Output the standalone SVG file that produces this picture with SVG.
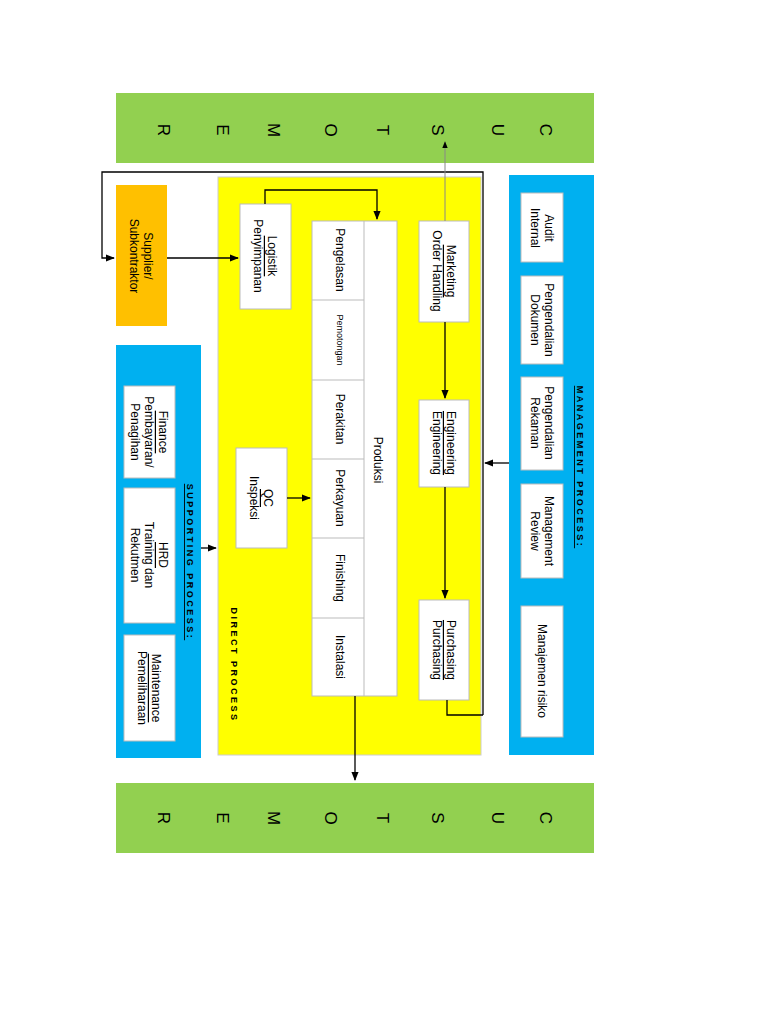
<svg xmlns="http://www.w3.org/2000/svg" width="768" height="1024" viewBox="0 0 768 1024">
<style>
text{font-family:"Liberation Sans",Arial,sans-serif;font-size:12px;fill:#000;text-anchor:middle;dominant-baseline:central}
.big{font-size:17px}
.hd{font-size:9px;font-weight:bold;text-decoration:underline;letter-spacing:2.5px}
.hd2{font-size:9px;font-weight:bold;letter-spacing:2.5px}
.sm{font-size:9px}
.bx{fill:#fff;stroke:#bbb;stroke-width:1}
.ln{fill:none;stroke:#000;stroke-width:1.3}
</style>
<defs><marker id="a" viewBox="0 0 10 10" refX="9" refY="5" markerWidth="7" markerHeight="7" orient="auto"><path d="M0,1L10,5L0,9z" fill="#000"/></marker></defs>
<rect width="768" height="1024" fill="#fff"/>
<g id="customer-top"><rect x="116" y="93" width="478" height="70" fill="#92d050"/>
<g class="big"><text class="big" transform="rotate(90 545 130)" x="545" y="130">C</text><text class="big" transform="rotate(90 497 130)" x="497" y="130">U</text><text class="big" transform="rotate(90 437 130)" x="437" y="130">S</text><text class="big" transform="rotate(90 382 130)" x="382" y="130">T</text><text class="big" transform="rotate(90 330 130)" x="330" y="130">O</text><text class="big" transform="rotate(90 273 130)" x="273" y="130">M</text><text class="big" transform="rotate(90 222 130)" x="222" y="130">E</text><text class="big" transform="rotate(90 163 130)" x="163" y="130">R</text></g></g>
<g id="customer-bottom"><rect x="116" y="783" width="478" height="70" fill="#92d050"/>
<text class="big" transform="rotate(90 545 818)" x="545" y="818">C</text><text class="big" transform="rotate(90 497 818)" x="497" y="818">U</text><text class="big" transform="rotate(90 437 818)" x="437" y="818">S</text><text class="big" transform="rotate(90 382 818)" x="382" y="818">T</text><text class="big" transform="rotate(90 330 818)" x="330" y="818">O</text><text class="big" transform="rotate(90 273 818)" x="273" y="818">M</text><text class="big" transform="rotate(90 222 818)" x="222" y="818">E</text><text class="big" transform="rotate(90 163 818)" x="163" y="818">R</text></g>
<g id="management"><rect x="509" y="175" width="85" height="580" fill="#00b0f0"/>
<text class="hd" transform="rotate(90 580 467)" x="580" y="467">MANAGEMENT PROCESS:</text></g>
<g id="audit"><rect class="bx" x="521" y="193" width="42" height="69"/><text transform="rotate(90 542 228)" x="542" y="228"><tspan x="542" dy="-7">Audit</tspan><tspan x="542" dy="14">Internal</tspan></text></g>
<g id="dokumen"><rect class="bx" x="521" y="276" width="42" height="88"/><text transform="rotate(90 542 320)" x="542" y="320"><tspan x="542" dy="-7">Pengendalian</tspan><tspan x="542" dy="14">Dokumen</tspan></text></g>
<g id="rekaman"><rect class="bx" x="521" y="377" width="42" height="93"/><text transform="rotate(90 542 423)" x="542" y="423"><tspan x="542" dy="-7">Pengendalian</tspan><tspan x="542" dy="14">Rekaman</tspan></text></g>
<g id="review"><rect class="bx" x="521" y="484" width="42" height="94"/><text transform="rotate(90 542 531)" x="542" y="531"><tspan x="542" dy="-7">Management</tspan><tspan x="542" dy="14">Review</tspan></text></g>
<g id="risiko"><rect class="bx" x="521" y="606" width="42" height="131"/><text transform="rotate(90 542 671)" x="542" y="671">Manajemen risiko</text></g>
<g id="direct"><rect x="218" y="177" width="263" height="578" fill="#ffff00" stroke="#ccc"/>
<text class="hd2" transform="rotate(90 234 665)" x="234" y="665">DIRECT PROCESS</text></g>
<g id="supplier"><rect x="116" y="185" width="51" height="141" fill="#ffc000"/><text transform="rotate(90 141 256)" x="141" y="256"><tspan x="141" dy="-7">Supplier/</tspan><tspan x="141" dy="14">Subkontraktor</tspan></text></g>
<g id="supporting"><rect x="116" y="345" width="85" height="413" fill="#00b0f0"/>
<text class="hd" transform="rotate(90 190 562)" x="190" y="562">SUPPORTING PROCESS:</text></g>
<g id="finance"><rect class="bx" x="124" y="386" width="51" height="92"/><text transform="rotate(90 149 432)" x="149" y="432"><tspan x="149" dy="-14" text-decoration="underline">Finance</tspan><tspan x="149" dy="14">Pembayaran/</tspan><tspan x="149" dy="14">Penagihan</tspan></text></g>
<g id="hrd"><rect class="bx" x="124" y="488" width="51" height="135"/><text transform="rotate(90 149 555)" x="149" y="555"><tspan x="149" dy="-14" text-decoration="underline">HRD</tspan><tspan x="149" dy="14">Training dan</tspan><tspan x="149" dy="14">Rekutmen</tspan></text></g>
<g id="maintenance"><rect class="bx" x="124" y="635" width="51" height="106"/><text transform="rotate(90 149 688)" x="149" y="688"><tspan x="149" dy="-7" text-decoration="underline">Maintenance</tspan><tspan x="149" dy="14">Pemeliharaan</tspan></text></g>
<g id="marketing"><rect class="bx" x="419" y="221" width="50" height="101"/><text transform="rotate(90 444 271)" x="444" y="271"><tspan x="444" dy="-7" text-decoration="underline">Marketing</tspan><tspan x="444" dy="14">Order Handling</tspan></text></g>
<g id="engineering"><rect class="bx" x="419" y="400" width="50" height="87"/><text transform="rotate(90 444 443)" x="444" y="443"><tspan x="444" dy="-7" text-decoration="underline">Engineering</tspan><tspan x="444" dy="14">Engineering</tspan></text></g>
<g id="purchasing"><rect class="bx" x="419" y="600" width="50" height="100"/><text transform="rotate(90 444 650)" x="444" y="650"><tspan x="444" dy="-7" text-decoration="underline">Purchasing</tspan><tspan x="444" dy="14">Purchasing</tspan></text></g>
<g id="logistik"><rect class="bx" x="240" y="204" width="51" height="105"/><text transform="rotate(90 265 256)" x="265" y="256"><tspan x="265" dy="-7" text-decoration="underline">Logistik</tspan><tspan x="265" dy="14">Penyimpanan</tspan></text></g>
<g id="qc"><rect class="bx" x="236" y="448" width="51" height="100"/><text transform="rotate(90 261 498)" x="261" y="498"><tspan x="261" dy="-7" text-decoration="underline">QC</tspan><tspan x="261" dy="14">Inspeksi</tspan></text></g>
<g id="produksi"><rect class="bx" x="312" y="221" width="85" height="475"/><line x1="364" y1="221" x2="364" y2="696" stroke="#bbb"/>
<g stroke="#bbb"><line x1="312" y1="300" x2="364" y2="300"/><line x1="312" y1="380" x2="364" y2="380"/><line x1="312" y1="459" x2="364" y2="459"/><line x1="312" y1="538" x2="364" y2="538"/><line x1="312" y1="618" x2="364" y2="618"/></g>
<text transform="rotate(90 378 460)" x="378" y="460">Produksi</text>
<text transform="rotate(90 340 260)" x="340" y="260">Pengelasan</text>
<text class="sm" transform="rotate(90 340 340)" x="340" y="340">Pemotongan</text>
<text transform="rotate(90 340 419)" x="340" y="419">Perakitan</text>
<text transform="rotate(90 340 498)" x="340" y="498">Perkayuan</text>
<text transform="rotate(90 340 578)" x="340" y="578">Finishing</text>
<text transform="rotate(90 340 657)" x="340" y="657">Instalasi</text></g>
<g id="connectors">
<path class="ln" d="M483,715V172H102V258H114" marker-end="url(#a)"/>
<path class="ln" d="M447,700V715H483"/>
<path class="ln" d="M509,463H485" marker-end="url(#a)"/>
<path class="ln" d="M445,322V398" marker-end="url(#a)"/>
<path class="ln" d="M445,487V598" marker-end="url(#a)"/>
<path d="M445,221V142" fill="none" stroke="#888" stroke-width="1" marker-end="url(#a)"/>
<path class="ln" d="M167,258H238" marker-end="url(#a)"/>
<path class="ln" d="M265,204V190H377V219" marker-end="url(#a)"/>
<path class="ln" d="M287,498H310" marker-end="url(#a)"/>
<path class="ln" d="M201,548H216" marker-end="url(#a)"/>
<path class="ln" d="M355,696V780" marker-end="url(#a)"/>
</g>
</svg>
